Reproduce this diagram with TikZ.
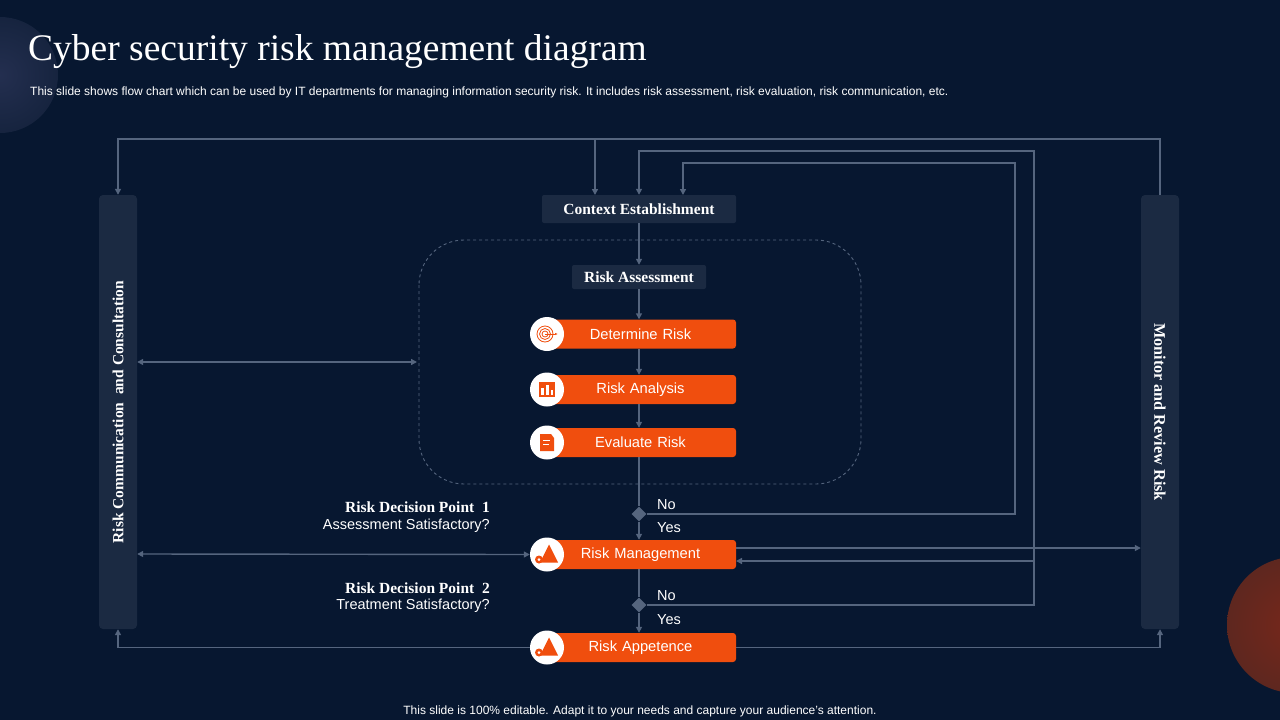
\documentclass[tikz,border=0pt]{standalone}
\usepackage{fontspec}
\setmainfont{Liberation Sans}
\newfontfamily\serifb{Liberation Serif}
\usetikzlibrary{arrows.meta,shapes.geometric}
\definecolor{bg}{HTML}{071730}
\definecolor{panel}{HTML}{1B2A42}
\definecolor{ln}{HTML}{55657E}
\definecolor{org}{HTML}{F04E0E}
\begin{document}
\begin{tikzpicture}[x=1pt,y=-1pt,
  conn/.style={draw=ln,line width=1.4pt},
  arr/.style={conn,-{Triangle[length=6pt,width=6pt]}},
  darr/.style={conn,{Triangle[length=6pt,width=6pt]}-{Triangle[length=6pt,width=6pt]}},
  dark/.style={fill=panel,rounded corners=2pt,text=white,font=\serifb\bfseries\fontsize{15.5}{17}\selectfont,inner sep=0pt},
  obox/.style={fill=org,rounded corners=3pt,text=white,font=\fontsize{14.7}{16}\selectfont,minimum width=191pt,minimum height=29pt,inner sep=0pt,text width=191pt,align=center},
  ic/.style={circle,fill=white,minimum size=34pt,inner sep=0pt},
  lbl/.style={text=white,font=\fontsize{14.5}{16}\selectfont,anchor=west,inner sep=0pt},
  dp/.style={text=white,font=\serifb\bfseries\fontsize{15.5}{17}\selectfont,anchor=east,inner sep=0pt},
  dq/.style={text=white,font=\fontsize{14.5}{16}\selectfont,anchor=east,inner sep=0pt},
  dia/.style={diamond,fill=ln,minimum size=15pt,inner sep=0pt}]
\useasboundingbox (0,0) rectangle (1280,720);
\fill[bg] (0,0) rectangle (1280,720);
\begin{scope}
\clip (0,0) rectangle (1280,720);
\shade[inner color=blue!20!gray!30!bg,outer color=blue!15!gray!15!bg] (0,75) circle (58);
\shade[inner color=red!55!orange!45!bg,outer color=red!45!orange!35!bg] (1295,625) circle (68);
\end{scope}
\node[anchor=west,text=white,font=\serifb\fontsize{37.5}{40}\selectfont,inner sep=0pt] (title) at (28,52) {Cyber security risk management diagram};
\node[anchor=west,text=white,font=\fontsize{12}{13}\selectfont,inner sep=0pt] (sub) at (30,92) {This slide shows flow chart which can be used by IT departments for managing information security risk. It includes risk assessment, risk evaluation, risk communication, etc.};
\node[text=white,font=\fontsize{12}{13}\selectfont,inner sep=0pt] (foot) at (640,711) {This slide is 100\% editable. Adapt it to your needs and capture your audience's attention.};
% bars
\node[fill=panel,rounded corners=4pt,minimum width=38pt,minimum height=434pt,inner sep=0pt] (lb) at (118,412) {};
\node[fill=panel,rounded corners=4pt,minimum width=38pt,minimum height=434pt,inner sep=0pt] (rb) at (1160,412) {};
\node[rotate=90,text=white,font=\serifb\bfseries\fontsize{15.5}{17}\selectfont] (lbt) at (lb) {Risk Communication \ and Consultation};
\node[rotate=-90,text=white,font=\serifb\bfseries\fontsize{16.2}{18}\selectfont] (rbt) at (rb) {Monitor and Review Risk};
% dashed box
\draw[ln,dashed,line width=0.9pt,rounded corners=45pt] (419,240) rectangle (861,484);
\coordinate (dbl) at (417,362);
% nodes
\node[dark,minimum width=194pt,minimum height=28pt] (ce) at (639,209) {Context Establishment};
\node[dark,minimum width=134pt,minimum height=24pt] (ra) at (639,277) {Risk Assessment};
\node[obox] (dr) at (640.5,334) {Determine Risk};
\node[obox] (an) at (640.5,389.5) {Risk Analysis};
\node[obox] (ev) at (640.5,442.5) {Evaluate Risk};
\node[obox] (rm) at (640.5,554.5) {Risk Management};
\node[obox] (ap) at (640.5,647.5) {Risk Appetence};
\node[dia] (d1) at (639,514) {};
\node[dia] (d2) at (639,605) {};
% icons
\foreach \n/\y in {i1/334,i2/389.5,i3/442.5,i4/554.5,i5/647.5}{\node[ic] (\n) at (547,\y) {};}
\foreach \r in {3,5.5,8}{\draw[org,line width=0.8pt] (545,334) circle (\r);}
\draw[org,line width=1pt,-{Latex[length=3pt]}] (545,334) -- (558,334);
\fill[org] (539,382) rectangle (555,397); \fill[white] (541,388) rectangle (544,395); \fill[white] (546,385) rectangle (549,395); \fill[white] (551,390) rectangle (553,395);
\fill[org] (540,434) -- (551,434) -- (554,438) -- (554,451) -- (540,451) -- cycle; \draw[white,line width=0.8pt] (543,440)--(550,440) (543,444)--(549,444);
\foreach \y in {554.5,647.5}{\fill[org] (549,\y-10) -- (558,\y+8) -- (540,\y+8) -- cycle; \fill[org] (539,\y+5) circle (4); \fill[white] (539,\y+5) circle (1.5);}
% connectors
\draw[arr] (ce) -- (ra);
\draw[arr] (ra.south) -- (ra.south |- dr.north);
\draw[arr] (ra.south |- dr.south) -- (ra.south |- an.north);
\draw[arr] (ra.south |- an.south) -- (ra.south |- ev.north);
\draw[conn] (ra.south |- ev.south) -- (d1);
\draw[arr] (d1) -- (d1 |- rm.north);
\draw[conn] (d1 |- rm.south) -- (d2);
\draw[arr] (d2) -- (d2 |- ap.north);
\draw[arr] (rb.north) |- (118,139) -- (lb.north);
\draw[arr] (595,139) -- (595,195);
\draw[arr] (d1.east) -| (1015,163) -| (683,195);
\draw[arr] (d2.east) -| (1034,151) -| (ce.north);
\draw[arr] (1034,561) -- (736,561);
\draw[arr] (736,548) -- (rb.west |- 0,548);
\draw[arr] (ap.east) -| (rb.south);
\draw[arr] (i5.west) -| (lb.south);
\draw[darr] (lb.east |- dbl) -- (dbl);
\draw[darr] (lb.east |- 0,554) -- (i4.west);
% labels
\node[lbl] (n1) at (657,505) {No};
\node[lbl] (y1) at (657,528) {Yes};
\node[lbl] (n2) at (657,596) {No};
\node[lbl] (y2) at (657,620) {Yes};
\node[dp] (p1) at (490,507) {Risk Decision Point \ 1};
\node[dq] (q1) at (490,526) {Assessment Satisfactory?};
\node[dp] (p2) at (490,588) {Risk Decision Point \ 2};
\node[dq] (q2) at (490,606) {Treatment Satisfactory?};
\end{tikzpicture}
\end{document}
